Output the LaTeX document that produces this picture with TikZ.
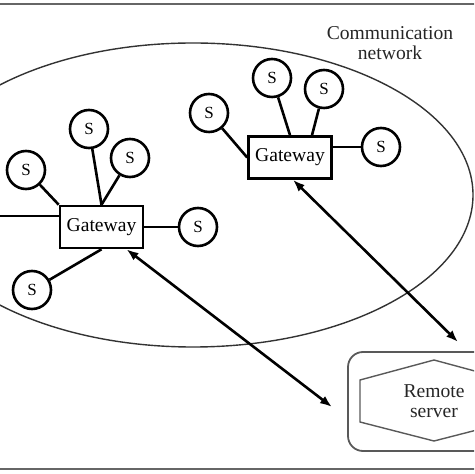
\documentclass[tikz,border=0pt]{standalone}
\usepackage{fontspec}
\setmainfont{Liberation Serif}
\usetikzlibrary{arrows.meta}

\begin{document}
\begin{tikzpicture}[x=0.5pt, y=-0.5pt,
    sensor/.style={circle, draw=black, line width=1.3pt, minimum size=19pt, inner sep=0pt, font=\fontsize{8.5}{9}\selectfont},
    gateway/.style={rectangle, draw=black, line width=1.3pt, minimum width=41.5pt, minimum height=21pt, inner sep=0pt, font=\fontsize{9.8}{10}\selectfont},
    link/.style={line width=1.3pt},
    arrow/.style={{Latex[length=6pt,width=4.5pt]}-{Latex[length=6pt,width=4.5pt]}, line width=1.3pt},
    nettext/.style={align=center, text=black!85, font=\fontsize{9.8}{10}\selectfont}
]
\useasboundingbox (0,0) rectangle (474,474);
\clip (0,0) rectangle (474,474);
% frame
\draw[black!60, line width=0.9pt] (-5,4) -- (480,4);
\draw[black!60, line width=0.9pt] (-5,469) -- (480,469);
% communication network
\draw[black!80, line width=0.7pt] (193,195) ellipse [x radius=280, y radius=152];
\node[nettext] (net) at (390,43) {Communication\\network};
% remote server
\draw[black!65, line width=0.9pt, rounded corners=7.5pt] (348,352) rectangle (520,451);
\draw[black!65, line width=0.7pt] (360,380) -- (434,360) -- (508,380) -- (508,422) -- (434,441) -- (360,422) -- cycle;
\node[nettext] (srv) at (434,401) {Remote\\server};
% left gateway
\node[gateway] (lgw) at (101.5,227) {Gateway};
\node[sensor] (ls1) at (26,170) {S};
\node[sensor] (ls2) at (89,129) {S};
\node[sensor] (ls3) at (130,158) {S};
\node[sensor] (ls4) at (198,227) {S};
\node[sensor] (ls5) at (32,290) {S};
\coordinate (lout) at (-5,216);
\draw[link] (ls1) -- (lgw.north west);
\draw[link] (ls2) -- (lgw.north);
\draw[link] (ls3) -- (lgw.north);
\draw[link] (ls4) -- (lgw.east);
\draw[link] (ls5) -- (lgw.south);
\draw[link] (lout) -- (lout -| lgw.west);
% right gateway
\node[gateway] (rgw) at (290,157.5) {Gateway};
\node[sensor] (rs1) at (209,113) {S};
\node[sensor] (rs2) at (272,78) {S};
\node[sensor] (rs3) at (324,89) {S};
\node[sensor] (rs4) at (381,147) {S};
\draw[link] (rs1) -- (rgw.west);
\draw[link] (rs2) -- (rgw.north);
\draw[link] (rs3) -- ([xshift=11pt]rgw.north);
\draw[link] (rs4) -- (rs4 -| rgw.east);
% links to the server
\coordinate (lend) at (332,407);
\coordinate (rend) at (458,342);
\draw[arrow] ([xshift=12.5pt]lgw.south) -- (lend);
\draw[arrow] ([xshift=1.5pt]rgw.south) -- (rend);
\end{tikzpicture}
\end{document}
